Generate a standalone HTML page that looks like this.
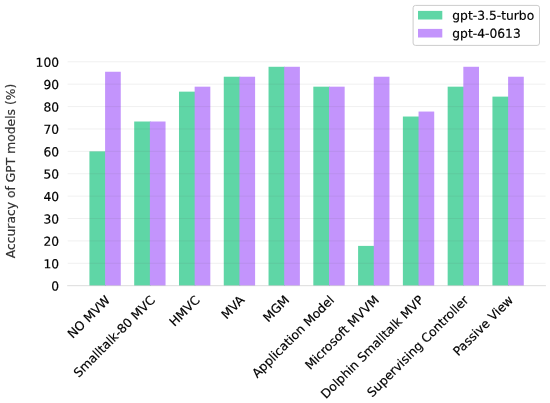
<!DOCTYPE html>
<html lang="en"><head><meta charset="utf-8"><title>Accuracy of GPT models</title>
<style>html,body{margin:0;padding:0;background:#fff;}body{width:550px;height:403px;overflow:hidden;}svg{display:block;}</style>
</head><body>
<svg width="550" height="403" viewBox="0 0 550 403" font-family="'DejaVu Sans', 'Liberation Sans', sans-serif" font-size="12.3px">
<rect width="550" height="403" fill="#fff"/>
<g>
<rect x="89.42" y="151.36" width="16.47" height="134.04" fill="#5fd6a6"/>
<rect x="105.09" y="71.75" width="15.67" height="213.65" fill="#c394fc"/>
<rect x="134.20" y="121.51" width="16.47" height="163.89" fill="#5fd6a6"/>
<rect x="149.87" y="121.51" width="15.67" height="163.89" fill="#c394fc"/>
<rect x="178.98" y="91.65" width="16.47" height="193.75" fill="#5fd6a6"/>
<rect x="194.65" y="86.68" width="15.67" height="198.72" fill="#c394fc"/>
<rect x="223.76" y="76.73" width="16.47" height="208.67" fill="#5fd6a6"/>
<rect x="239.43" y="76.73" width="15.67" height="208.67" fill="#c394fc"/>
<rect x="268.54" y="66.78" width="16.47" height="218.62" fill="#5fd6a6"/>
<rect x="284.21" y="66.78" width="15.67" height="218.62" fill="#c394fc"/>
<rect x="313.32" y="86.68" width="16.47" height="198.72" fill="#5fd6a6"/>
<rect x="328.99" y="86.68" width="15.67" height="198.72" fill="#c394fc"/>
<rect x="358.10" y="245.90" width="16.47" height="39.50" fill="#5fd6a6"/>
<rect x="373.77" y="76.73" width="15.67" height="208.67" fill="#c394fc"/>
<rect x="402.88" y="116.53" width="16.47" height="168.87" fill="#5fd6a6"/>
<rect x="418.55" y="111.56" width="15.67" height="173.84" fill="#c394fc"/>
<rect x="447.66" y="86.68" width="16.47" height="198.72" fill="#5fd6a6"/>
<rect x="463.33" y="66.78" width="15.67" height="218.62" fill="#c394fc"/>
<rect x="492.44" y="96.63" width="16.47" height="188.77" fill="#5fd6a6"/>
<rect x="508.11" y="76.73" width="15.67" height="208.67" fill="#c394fc"/>
</g>
<g stroke="#555" stroke-opacity="0.1" stroke-width="0.9">
<line x1="67.70" x2="545.50" y1="263.31" y2="263.31"/>
<line x1="67.70" x2="545.50" y1="240.92" y2="240.92"/>
<line x1="67.70" x2="545.50" y1="218.53" y2="218.53"/>
<line x1="67.70" x2="545.50" y1="196.14" y2="196.14"/>
<line x1="67.70" x2="545.50" y1="173.75" y2="173.75"/>
<line x1="67.70" x2="545.50" y1="151.36" y2="151.36"/>
<line x1="67.70" x2="545.50" y1="128.97" y2="128.97"/>
<line x1="67.70" x2="545.50" y1="106.58" y2="106.58"/>
<line x1="67.70" x2="545.50" y1="84.19" y2="84.19"/>
<line x1="67.70" x2="545.50" y1="61.80" y2="61.80"/>
</g>
<line x1="67.20" x2="545.90" y1="285.70" y2="285.70" stroke="#000" stroke-opacity="0.14" stroke-width="1"/>
<g fill="#000" stroke="#000" stroke-width="0.18" text-anchor="end">
<text transform="translate(59.1,290.55) rotate(-0.03)">0</text>
<text transform="translate(59.1,268.16) rotate(-0.03)">10</text>
<text transform="translate(59.1,245.77) rotate(-0.03)">20</text>
<text transform="translate(59.1,223.38) rotate(-0.03)">30</text>
<text transform="translate(59.1,200.99) rotate(-0.03)">40</text>
<text transform="translate(59.1,178.60) rotate(-0.03)">50</text>
<text transform="translate(59.1,156.21) rotate(-0.03)">60</text>
<text transform="translate(59.1,133.82) rotate(-0.03)">70</text>
<text transform="translate(59.1,111.43) rotate(-0.03)">80</text>
<text transform="translate(59.1,89.04) rotate(-0.03)">90</text>
<text transform="translate(59.1,66.65) rotate(-0.03)">100</text>
</g>
<g fill="#000" stroke="#000" stroke-width="0.18" text-anchor="end" font-size="12.35px">
<text transform="translate(110.99,300.8) rotate(-45)">NO MVW</text>
<text transform="translate(155.77,300.8) rotate(-45)">Smalltalk-80 MVC</text>
<text transform="translate(200.55,300.8) rotate(-45)">HMVC</text>
<text transform="translate(245.33,300.8) rotate(-45)">MVA</text>
<text transform="translate(290.11,300.8) rotate(-45)">MGM</text>
<text transform="translate(334.89,300.8) rotate(-45)">Application Model</text>
<text transform="translate(379.67,300.8) rotate(-45)">Microsoft MVVM</text>
<text transform="translate(424.45,300.8) rotate(-45)">Dolphin Smalltalk MVP</text>
<text transform="translate(469.23,300.8) rotate(-45)">Supervising Controller</text>
<text transform="translate(514.01,300.8) rotate(-45)">Passive View</text>
</g>
<text transform="translate(14.5,171.0) rotate(-90)" font-size="12.34px" text-anchor="middle" fill="#333" stroke="#333" stroke-width="0.18">Accuracy of GPT models (%)</text>
<rect x="413.1" y="5.4" width="126.40" height="40.00" rx="2.4" ry="2.4" fill="#fff" fill-opacity="0.8" stroke="#cccccc" stroke-width="1"/>
<rect x="418" y="10.9" width="24.3" height="8.6" fill="#5fd6a6"/>
<rect x="418" y="28.9" width="24.3" height="8.6" fill="#c394fc"/>
<text transform="translate(452.3,19.8) rotate(-0.03)" fill="#000" stroke="#000" stroke-width="0.18">gpt-3.5-turbo</text>
<text transform="translate(452.3,37.7) rotate(-0.03)" fill="#000" stroke="#000" stroke-width="0.18">gpt-4-0613</text>
</svg>
</body></html>
